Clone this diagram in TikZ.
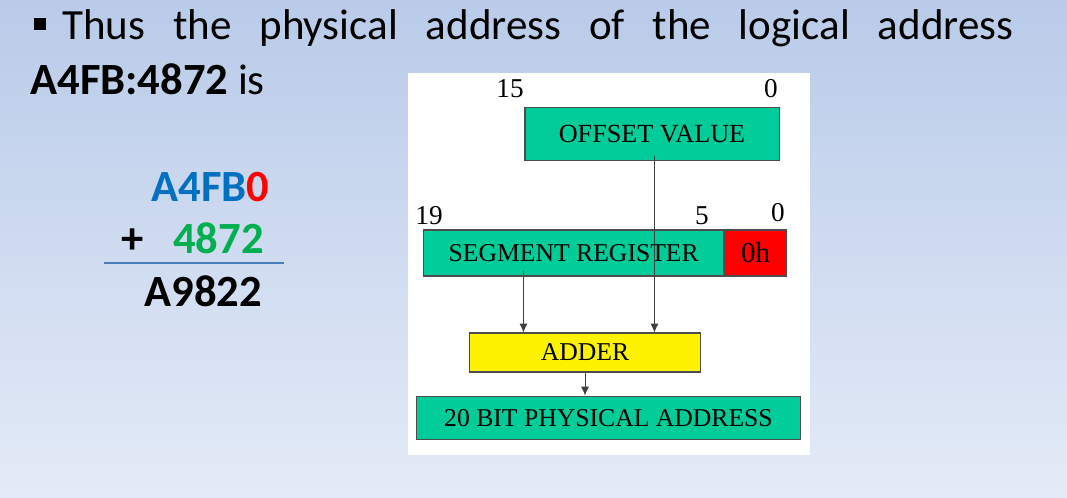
\documentclass[tikz,border=0pt]{standalone}
\usepackage{fontspec}
\setmainfont{Carlito}
\newfontfamily\timesfont{Liberation Serif}
\usepackage{xcolor}
\usetikzlibrary{positioning, arrows.meta}
\definecolor{slidetop}{HTML}{B9CBE9}
\definecolor{slidebottom}{HTML}{E4EBF7}
\definecolor{regbox}{HTML}{00CC99}
\definecolor{hexblue}{HTML}{0070C0}
\definecolor{hexgreen}{HTML}{00B050}
\definecolor{sumline}{HTML}{4A7EBB}
\tikzset{
  regcell/.style={draw=black!70, line width=0.6pt, fill=regbox, inner sep=0pt, text=black, font=\timesfont\fontsize{14.6}{16}\selectfont},
  bitnum/.style={inner sep=0pt, text=black, font=\timesfont\fontsize{15.5}{17}\selectfont},
  slidetext/.style={inner sep=0pt, anchor=base west, font=\fontsize{24.5}{28}\selectfont},
  sumtext/.style={inner sep=0pt, anchor=base west, font=\bfseries\fontsize{25.4}{28}\selectfont},
  feed/.style={-{Latex[length=5pt,width=4.5pt]}, draw=black!75, line width=0.45pt}
}
\begin{document}
\begin{tikzpicture}[x=0.02cm, y=-0.02cm]
    % Slide background
    \shade[top color=slidetop, bottom color=slidebottom] (0,0) rectangle (1067,497);
    \useasboundingbox (0,0) rectangle (1067,497);

    % Heading
    \node[fill=black, minimum size=6.6pt, inner sep=0pt] (bullet) at (40,24) {};
    \node[slidetext] (headone) at (62,39) {\hbox to 541.3pt{Thus\hfill the\hfill physical\hfill address\hfill of\hfill the\hfill logical\hfill address}};
    \node[slidetext] (headtwo) at (30,94) {{\bfseries\fontsize{25.4}{28}\selectfont A4FB:4872} is};

    % Sum
    \node[sumtext] (segval) at (151,201) {\textcolor{hexblue}{A4FB}\textcolor{red}{0}};
    \node[sumtext] (plus) at (121,253) {+};
    \node[sumtext, text=hexgreen] (offval) at (173,253) {4872};
    \node[sumtext] (result) at (144,306) {A9822};
    \coordinate (rulel) at (104,263);
    \coordinate (ruler) at (284,263);
    \draw[sumline, line width=0.7pt] (rulel) -- (ruler);

    % Picture panel
    \fill[white] (408,73) rectangle (810,455);

    % Boxes
    \node[regcell, minimum width=144.6pt, minimum height=30.7pt, font=\timesfont\fontsize{14.9}{16}\selectfont] (offset) at (652,134) {\raisebox{-1.5pt}{OFFSET VALUE}};
    \node[regcell, minimum width=171pt, minimum height=26.2pt] (segment) at (573.7,253) {\raisebox{-1.5pt}{SEGMENT REGISTER}};
    \node[regcell, fill=red, minimum width=34.8pt, minimum height=26.2pt, right=0pt of segment, font=\timesfont\fontsize{16.5}{18}\selectfont] (zeroh) {\raisebox{-1.5pt}{0h}};
    \node[regcell, fill=yellow, minimum width=132pt, minimum height=22.2pt] (adder) at (585,352.5) {\raisebox{-1.5pt}{ADDER}};
    \node[regcell, minimum width=219pt, minimum height=25pt] (physical) at (608.5,418) {\raisebox{-1.5pt}{20 BIT PHYSICAL ADDRESS}};

    % Bit numbers
    \node[bitnum] (offhi) at (510,89) {15};
    \node[bitnum] (offlo) at (771,89) {0};
    \node[bitnum] (seghi) at (429,216) {19};
    \node[bitnum] (segmid) at (702,216) {5};
    \node[bitnum] (seglo) at (778,213) {0};

    % Connectors
    \draw[feed] ([xshift=1.4pt, yshift=3pt]offset.south) -- ([xshift=1.4pt]offset.south |- adder.north);
    \draw[feed] ([xshift=-28.6pt, yshift=3pt]segment.south) -- ([xshift=-28.6pt]segment.south |- adder.north);
    \draw[feed] (adder.south) -- (adder.south |- physical.north);
\end{tikzpicture}
\end{document}
